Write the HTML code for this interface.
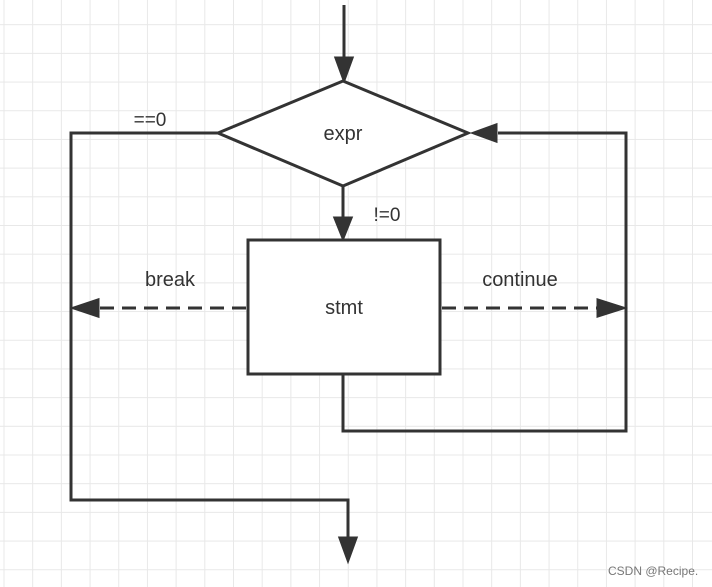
<!DOCTYPE html>
<html><head><style>
html,body{margin:0;padding:0;background:#fff;}
body{width:712px;height:587px;overflow:hidden;
background-image:linear-gradient(to right,#e8e8e8 1px,transparent 1px),linear-gradient(to bottom,#e8e8e8 1px,transparent 1px);
background-size:28.7px 28.7px;background-position:3.5px -4.5px;}
svg{position:absolute;left:0;top:0;}
text{font-family:"Liberation Sans",sans-serif;fill:#333;}
</style></head><body>
<svg width="712" height="587" viewBox="0 0 712 587">
<defs>
<marker id="a" markerWidth="10" markerHeight="10" refX="9" refY="5" orient="auto" markerUnits="userSpaceOnUse">
</marker>
</defs>
<g stroke="#333" stroke-width="3" fill="none">
<line x1="344" y1="5" x2="344" y2="62"/>
<polygon points="336,58 352,58 344,80" fill="#333"/>
<polygon points="218,133 343,81 468,133 343,186" fill="#fff"/>
<polyline points="218,133 71,133 71,500 348,500 348,542"/>
<polygon points="340,538 356,538 348,560" fill="#333"/>
<line x1="343" y1="186" x2="343" y2="222"/>
<polygon points="335,218 351,218 343,238" fill="#333"/>
<rect x="248" y="240" width="192" height="134" fill="#fff"/>
<polyline points="343,375 343,431 626,431 626,133 498,133"/>
<polygon points="496,125 496,141 474,133" fill="#333"/>
<line x1="246" y1="308" x2="96" y2="308" stroke-dasharray="14,8"/>
<polygon points="98,300 98,316 74,308" fill="#333"/>
<line x1="442" y1="308" x2="600" y2="308" stroke-dasharray="14,8"/>
<polygon points="598,300 598,316 623,308" fill="#333"/>
</g>
<text x="343" y="140" font-size="20" text-anchor="middle">expr</text>
<text x="344" y="314" font-size="20" text-anchor="middle">stmt</text>
<text x="150" y="126" font-size="19" text-anchor="middle">==0</text>
<text x="387" y="221" font-size="19" text-anchor="middle">!=0</text>
<text x="170" y="286" font-size="20" text-anchor="middle">break</text>
<text x="520" y="286" font-size="20" text-anchor="middle">continue</text>
<text x="608" y="575" font-size="12" style="fill:#777">CSDN @Recipe.</text>
</svg>
</body></html>
